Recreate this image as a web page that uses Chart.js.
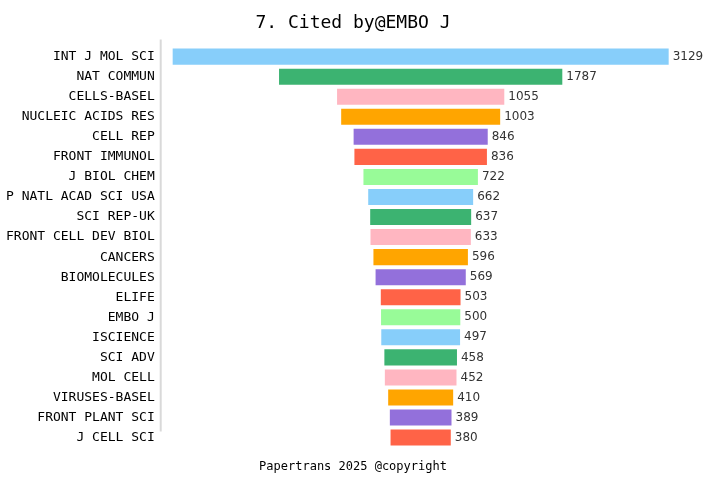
<!DOCTYPE html>
<html>
<head>
<meta charset="utf-8">
<script src="https://cdn.jsdelivr.net/npm/chart.js@4/dist/chart.umd.min.js"></script>
<style>
  html, body { margin: 0; padding: 0; background: #fff; }
  #wrap { width: 720px; height: 480px; }
</style>
</head>
<body>
<div id="wrap"><canvas id="chart" width="720" height="480"></canvas></div>
<script>
const journals = [
    "INT J MOL SCI", "NAT COMMUN", "CELLS-BASEL", "NUCLEIC ACIDS RES", "CELL REP",
    "FRONT IMMUNOL", "J BIOL CHEM", "P NATL ACAD SCI USA", "SCI REP-UK", "FRONT CELL DEV BIOL",
    "CANCERS", "BIOMOLECULES", "ELIFE", "EMBO J", "ISCIENCE",
    "SCI ADV", "MOL CELL", "VIRUSES-BASEL", "FRONT PLANT SCI", "J CELL SCI"
];
const citations = [3129, 1787, 1055, 1003, 846, 836, 722, 662, 637, 633, 596, 569, 503, 500, 497, 458, 452, 410, 389, 380];
const palette = ["#87CEFA", "#3CB371", "#FFB6C1", "#FFA500", "#9370DB", "#FF6347", "#98FB98"];

const monoFont = "'DejaVu Sans Mono', 'Liberation Mono', monospace";

// bars are centred on zero, so each one spans -v/2 .. v/2
const barRanges = citations.map(v => [-v / 2, v / 2]);
const barColors = citations.map((v, i) => palette[i % palette.length]);

const valueLabels = {
    id: 'valueLabels',
    afterDatasetsDraw(chart) {
        const ctx = chart.ctx;
        const meta = chart.getDatasetMeta(0);
        ctx.save();
        ctx.font = "12px 'DejaVu Sans', sans-serif";
        ctx.fillStyle = '#333';
        ctx.textAlign = 'left';
        ctx.textBaseline = 'middle';
        meta.data.forEach((bar, i) => {
            ctx.fillText(String(citations[i]), bar.x + 4, bar.y);
        });
        ctx.restore();
    }
};

// left spine, a bit taller at the top than at the bottom like the original
const leftSpine = {
    id: 'leftSpine',
    beforeDatasetsDraw(chart) {
        const y = chart.scales.y;
        const step = y.getPixelForValue(1) - y.getPixelForValue(0);
        const top = y.getPixelForValue(0) - 0.85 * step;
        const bottom = y.getPixelForValue(journals.length - 1) - 0.3 * step;
        const x = chart.chartArea.left;
        const ctx = chart.ctx;
        ctx.save();
        ctx.strokeStyle = '#d9d9d9';
        ctx.lineWidth = 2;
        ctx.beginPath();
        ctx.moveTo(x, top);
        ctx.lineTo(x, bottom);
        ctx.stroke();
        ctx.restore();
    }
};

new Chart(document.getElementById('chart'), {
    type: 'bar',
    data: {
        labels: journals,
        datasets: [{
            data: barRanges,
            backgroundColor: barColors,
            borderWidth: 0,
            barPercentage: 0.8,
            categoryPercentage: 1.0
        }]
    },
    options: {
        indexAxis: 'y',
        responsive: false,
        animation: false,
        layout: { padding: { left: 0, right: 14, top: 0, bottom: 0 } },
        plugins: {
            legend: { display: false },
            tooltip: { enabled: false },
            title: {
                display: true,
                text: '7. Cited by@EMBO J',
                color: '#000',
                font: { family: monoFont, size: 18, weight: 'normal' },
                padding: { top: 13, bottom: 12 }
            },
            subtitle: {
                display: true,
                position: 'bottom',
                text: 'Papertrans 2025 @copyright',
                color: '#000',
                font: { family: monoFont, size: 12, weight: 'normal' },
                padding: { top: 12, bottom: 6 }
            }
        },
        scales: {
            x: {
                display: false,
                min: -1640,
                max: 1800
            },
            y: {
                grid: { display: false, drawTicks: false },
                border: { display: false },
                ticks: {
                    color: '#000',
                    padding: 6,
                    font: { family: monoFont, size: 13 }
                }
            }
        }
    },
    plugins: [valueLabels, leftSpine]
});
</script>
</body>
</html>
